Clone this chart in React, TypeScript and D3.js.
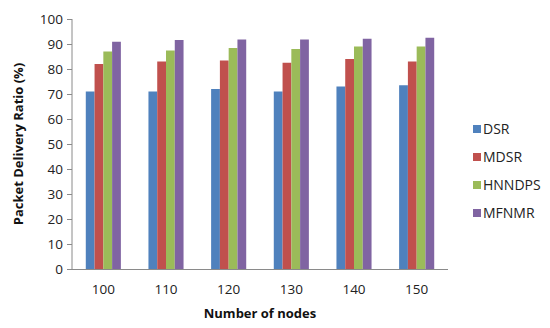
import React from "react";
import * as d3 from "d3";

const nodes = ["100", "110", "120", "130", "140", "150"];
const seriesNames = ["DSR", "MDSR", "HNNDPS", "MFNMR"];
const dsr = [71, 71, 72, 71, 73, 73.5];
const mdsr = [82, 83, 83.4, 82.5, 84, 83];
const hnndps = [87, 87.4, 88.4, 88, 89, 89];
const mfnmr = [90.9, 91.6, 91.8, 91.8, 92.1, 92.5];
const yTicks = [0, 10, 20, 30, 40, 50, 60, 70, 80, 90, 100];
const colors = ["#4F81BD", "#C0504D", "#9BBB59", "#8064A2"];

const values = [dsr, mdsr, hnndps, mfnmr];

const W = 550;
const H = 328;
const left = 72;
const right = 448;
const top = 19;
const bottom = 269;
const font = "'Open Sans', 'Liberation Sans', sans-serif";
const axisColor = "#8a8a8a";

export default function App() {
  const x = d3.scaleBand().domain(nodes).range([left, right]).paddingInner(0.44).paddingOuter(0.22);
  const xs = d3.scaleBand().domain(seriesNames).range([0, x.bandwidth()]);
  const y = d3.scaleLinear().domain([0, 100]).range([bottom, top]);

  return (
    <svg
      width={W}
      height={H}
      style={{ position: "absolute", left: 0, top: 0, background: "#fff" }}
      fontFamily={font}
    >
      {values.map((vals, si) =>
        vals.map((v, i) => (
          <rect
            key={`${si}-${i}`}
            x={(x(nodes[i]) ?? 0) + (xs(seriesNames[si]) ?? 0)}
            y={y(v)}
            width={xs.bandwidth()}
            height={y(0) - y(v)}
            fill={colors[si]}
          />
        ))
      )}
      <line x1={left} x2={left} y1={top} y2={bottom} stroke={axisColor} />
      <line x1={left - 5} x2={right} y1={bottom + 0.5} y2={bottom + 0.5} stroke={axisColor} />
      {yTicks.map((t) => (
        <g key={t}>
          <line x1={left - 5} x2={left} y1={Math.round(y(t)) + 0.5} y2={Math.round(y(t)) + 0.5} stroke={axisColor} />
          <text x={left - 9} y={y(t)} dy="0.35em" textAnchor="end" fontSize={13.5} fill="#222">
            {t}
          </text>
        </g>
      ))}
      {nodes.map((n) => (
        <text
          key={n}
          x={(x(n) ?? 0) + x.bandwidth() / 2}
          y={289}
          dy="0.35em"
          textAnchor="middle"
          fontSize={13.5}
          fill="#222"
        >
          {n}
        </text>
      ))}
      <text x={260} y={313} dy="0.35em" textAnchor="middle" fontSize={13} fontWeight="bold" fill="#111">
        Number of nodes
      </text>
      <text
        transform={`translate(18,${(top + bottom) / 2}) rotate(-90)`}
        textAnchor="middle"
        dy="0.35em"
        fontSize={13}
        fontWeight="bold"
        fill="#111"
      >
        Packet Delivery Ratio (%)
      </text>
      {seriesNames.map((s, i) => {
        const cy = 129 + i * 28;
        return (
          <g key={s}>
            <rect x={473} y={cy - 4} width={8} height={8} fill={colors[i]} />
            <text x={483} y={cy} dy="0.35em" fontSize={14} fill="#222">
              {s}
            </text>
          </g>
        );
      })}
    </svg>
  );
}
